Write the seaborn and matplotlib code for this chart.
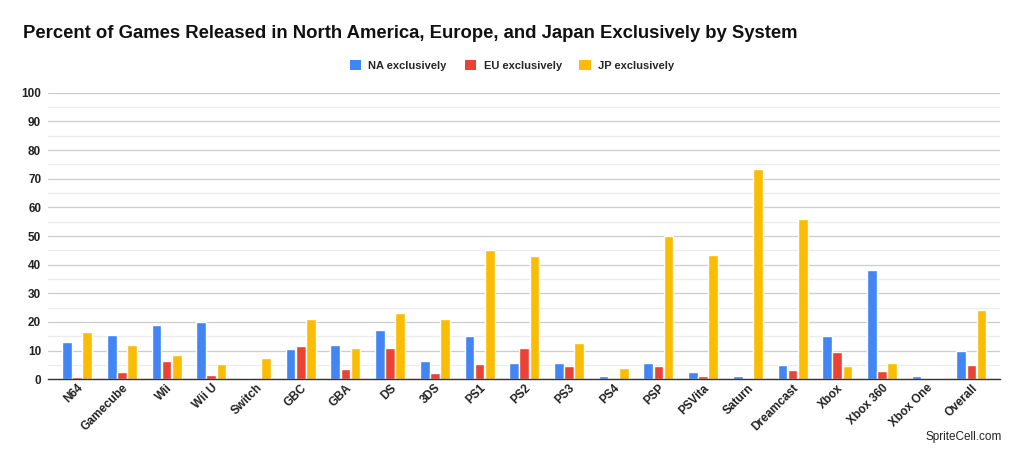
import matplotlib.pyplot as plt
import seaborn as sns
import pandas as pd
from matplotlib.ticker import MultipleLocator
from matplotlib.patches import Patch

systems = ["N64", "Gamecube", "Wii", "Wii U", "Switch", "GBC", "GBA", "DS", "3DS",
           "PS1", "PS2", "PS3", "PS4", "PSP", "PSVita", "Saturn", "Dreamcast",
           "Xbox", "Xbox 360", "Xbox One", "Overall"]
na_excl = [13, 15.5, 19, 20, 0.4, 10.5, 11.8, 17, 6.3, 15, 5.5, 5.5, 1.2, 5.5, 2.6,
           1.0, 5.0, 15, 38, 1.0, 10]
eu_excl = [0.6, 2.5, 6.5, 1.3, 0, 11.7, 3.7, 10.8, 2.0, 5.2, 11, 4.5, 0, 4.5, 1.0,
           0.4, 3.3, 9.5, 2.7, 0, 5]
jp_excl = [16.5, 12, 8.5, 5.2, 7.5, 21, 11, 23, 21, 45, 43, 12.7, 4.0, 50, 43.5,
           73.5, 56, 4.7, 5.5, 0.3, 24]

df = pd.DataFrame({"System": systems,
                   "NA exclusively": na_excl,
                   "EU exclusively": eu_excl,
                   "JP exclusively": jp_excl})
df_melt = df.melt(id_vars=["System"], var_name="Region", value_name="Percent")

sns.set_style("white")
plt.rcParams['font.family'] = ['Liberation Sans', 'DejaVu Sans']

fig = plt.figure(figsize=(10.24, 4.53), dpi=100)
ax = fig.add_axes([0.047, 0.163, 0.930, 0.632])

palette = ["#4285F4", "#EA4335", "#FBBC04"]
sns.barplot(data=df_melt, x="System", y="Percent", hue="Region", palette=palette,
            saturation=1, width=0.68, gap=0.04, ax=ax, legend=False, zorder=3)

ax.set_ylim(0, 100)
ax.set_xlim(-0.65, len(systems) - 0.35)
ax.yaxis.set_major_locator(MultipleLocator(10))
ax.yaxis.set_minor_locator(MultipleLocator(5))
ax.grid(axis="y", which="major", color="#cccccc", linewidth=0.9, zorder=0)
ax.grid(axis="y", which="minor", color="#ebebeb", linewidth=0.9, zorder=0)
for s in ["top", "right", "left"]:
    ax.spines[s].set_visible(False)
ax.spines["bottom"].set_color("#333333")
ax.spines["bottom"].set_linewidth(1.0)
ax.spines["bottom"].set_zorder(4)
ax.tick_params(axis="both", which="both", length=0)
ax.tick_params(axis="y", labelsize=8.5, labelcolor="#222222", pad=5)
ax.tick_params(axis="x", labelsize=8.5, labelcolor="#222222", pad=2)
for lab in ax.get_yticklabels():
    lab.set_fontweight("bold")
plt.setp(ax.get_xticklabels(), rotation=45, ha="right", rotation_mode="anchor",
         fontweight="bold")
ax.set_xlabel("")
ax.set_ylabel("")

fig.text(0.022, 0.925, "Percent of Games Released in North America, Europe, and Japan Exclusively by System",
         fontsize=13.3, fontweight="bold", color="#111111", va="center")

handles = [Patch(facecolor=c, edgecolor="none") for c in palette]
fig.legend(handles, ["NA exclusively", "EU exclusively", "JP exclusively"],
           loc="center", bbox_to_anchor=(0.5, 0.855), ncol=3, frameon=False,
           handlelength=1.0, handleheight=1.0, columnspacing=1.6,
           handletextpad=0.7, prop={"weight": "bold", "size": 8})

fig.text(0.978, 0.022, "SpriteCell.com", fontsize=8.5, color="#222222",
         ha="right", va="bottom")

plt.savefig("out.png", dpi=100)
